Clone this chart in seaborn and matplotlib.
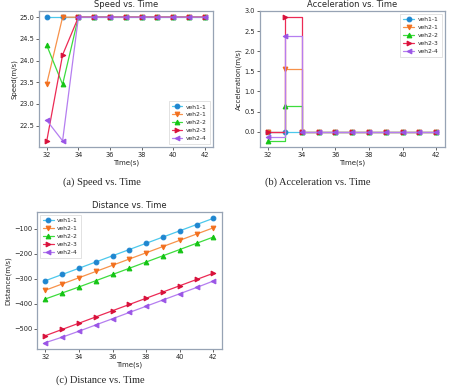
import matplotlib
matplotlib.use("Agg")
import matplotlib.pyplot as plt
import seaborn as sns
import pandas as pd

sns.set_style("white")
plt.rcParams['font.family'] = ['DejaVu Sans']

time = [32, 33, 34, 35, 36, 37, 38, 39, 40, 41, 42]
vehicles = ["veh1-1", "veh2-1", "veh2-2", "veh2-3", "veh2-4"]

speed = {
    "veh1-1": [25.0, 25.0, 25.0, 25.0, 25.0, 25.0, 25.0, 25.0, 25.0, 25.0, 25.0],
    "veh2-1": [23.47, 25.0, 25.0, 25.0, 25.0, 25.0, 25.0, 25.0, 25.0, 25.0, 25.0],
    "veh2-2": [24.35, 23.45, 25.0, 25.0, 25.0, 25.0, 25.0, 25.0, 25.0, 25.0, 25.0],
    "veh2-3": [22.15, 24.13, 25.0, 25.0, 25.0, 25.0, 25.0, 25.0, 25.0, 25.0, 25.0],
    "veh2-4": [22.62, 22.15, 25.0, 25.0, 25.0, 25.0, 25.0, 25.0, 25.0, 25.0, 25.0],
}
accel = {
    "veh1-1": [0.0, 0.0, 0.0, 0.0, 0.0, 0.0, 0.0, 0.0, 0.0, 0.0, 0.0],
    "veh2-1": [0.0, 1.55, 0.0, 0.0, 0.0, 0.0, 0.0, 0.0, 0.0, 0.0, 0.0],
    "veh2-2": [-0.23, 0.63, 0.0, 0.0, 0.0, 0.0, 0.0, 0.0, 0.0, 0.0, 0.0],
    "veh2-3": [0.0, 2.85, 0.0, 0.0, 0.0, 0.0, 0.0, 0.0, 0.0, 0.0, 0.0],
    "veh2-4": [-0.13, 2.37, 0.0, 0.0, 0.0, 0.0, 0.0, 0.0, 0.0, 0.0, 0.0],
}
distance = {
    "veh1-1": [-308, -283, -258, -233, -208, -183, -158, -133, -108, -83, -58],
    "veh2-1": [-346, -321, -296, -271, -246, -221, -196, -171, -146, -121, -96],
    "veh2-2": [-381, -357, -333, -308, -283, -258, -233, -208, -183, -158, -133],
    "veh2-3": [-528, -503, -478, -453, -428, -403, -378, -353, -328, -303, -278],
    "veh2-4": [-556, -534, -510, -485, -460, -435, -410, -385, -360, -335, -309],
}

line_colors = ["#4cc8ec", "#f7924a", "#3ddc3d", "#ec2a55", "#b57ef0"]
marker_colors = ["#1f86d0", "#f26f1e", "#14c414", "#d8103a", "#9a55e6"]
markers = ["o", "v", "^", ">", "<"]

fig = plt.figure(figsize=(4.74, 3.92), dpi=100)
fig.patch.set_facecolor("white")

ax1 = fig.add_axes([0.082, 0.625, 0.367, 0.347])
ax2 = fig.add_axes([0.548, 0.625, 0.390, 0.347])
ax3 = fig.add_axes([0.078, 0.110, 0.390, 0.349])

def draw(ax, data, title, ylabel, loc, steps=False):
    for i, v in enumerate(vehicles):
        df = pd.DataFrame({"t": time, "y": data[v]})
        kw = dict(drawstyle="steps-post") if steps else {}
        sns.lineplot(data=df, x="t", y="y", ax=ax, color=line_colors[i],
                     marker=markers[i], markersize=3.4, markerfacecolor=marker_colors[i],
                     markeredgecolor=marker_colors[i], linewidth=0.9, label=v, **kw)
    ax.set_title(title, fontsize=6, pad=3)
    ax.set_xlabel("Time(s)", fontsize=5, labelpad=1.5)
    ax.set_ylabel(ylabel, fontsize=5, labelpad=1.5)
    ax.set_xticks([32, 34, 36, 38, 40, 42])
    ax.tick_params(labelsize=4.8, length=2, width=0.5, pad=1.5, left=True, bottom=True)
    for s in ax.spines.values():
        s.set_color("#97a3b4")
        s.set_linewidth(0.9)
    leg = ax.legend(loc=loc, fontsize=4.3, frameon=True, fancybox=False,
                    handlelength=1.8, borderpad=0.5, labelspacing=0.45,
                    handletextpad=0.6)
    leg.get_frame().set_linewidth(0.5)
    leg.get_frame().set_edgecolor("#cccccc")

draw(ax1, speed, "Speed vs. Time", "Speed(m/s)", "lower right")
draw(ax2, accel, "Acceleration vs. Time", "Acceleration(m/s)", "upper right", steps=True)
draw(ax3, distance, "Distance vs. Time", "Distance(m/s)", "upper left")
ax1.set_yticks([22.5, 23.0, 23.5, 24.0, 24.5, 25.0])
ax2.set_yticks([0.0, 0.5, 1.0, 1.5, 2.0, 2.5, 3.0])
ax2.set_ylim(-0.38, 3.0)
ax3.set_yticks([-500, -400, -300, -200, -100])

cap = dict(fontsize=7.5, family="Liberation Serif", ha="center", va="center")
fig.text(0.215, 0.536, "(a) Speed vs. Time", **cap)
fig.text(0.671, 0.536, "(b) Acceleration vs. Time", **cap)
fig.text(0.211, 0.031, "(c) Distance vs. Time", **cap)

fig.savefig("out.png", dpi=100, facecolor="white")
